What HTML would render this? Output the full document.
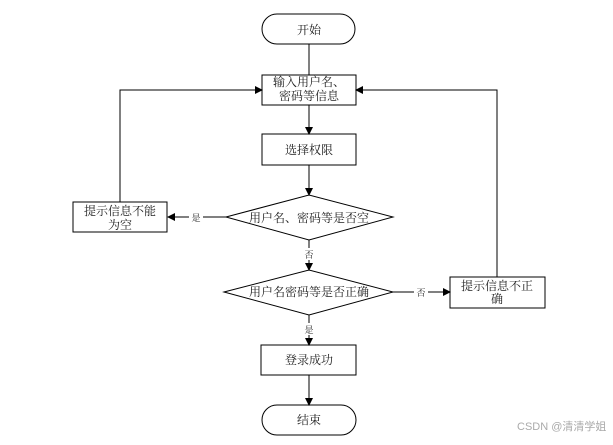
<!DOCTYPE html>
<html><head><meta charset="utf-8"><style>
body{margin:0;background:#fff;}
svg text{font-family:"Liberation Serif","Noto Serif CJK SC",serif;font-size:12px;fill:#222;}
</style></head><body>
<svg width="613" height="440" viewBox="0 0 613 440" xmlns="http://www.w3.org/2000/svg">
<defs><marker id="a" markerWidth="8" markerHeight="8" refX="7" refY="4" orient="auto" markerUnits="userSpaceOnUse"><path d="M0,0 L8,4 L0,8 z" fill="#000"/></marker></defs>
<g stroke="#000" stroke-width="1" fill="none">
<rect x="262" y="14" width="93" height="30" rx="15" fill="#fff"/>
<rect x="262" y="75" width="94" height="30" fill="#fff"/>
<rect x="262" y="134" width="94" height="31" fill="#fff"/>
<polygon points="226,217 309,195 393,217 309,240" fill="#fff"/>
<rect x="73" y="202" width="94" height="30" fill="#fff"/>
<polygon points="224,292 309,270 393,292 309,315" fill="#fff"/>
<rect x="450" y="277" width="95" height="31" fill="#fff"/>
<rect x="261" y="345" width="95" height="30" fill="#fff"/>
<rect x="262" y="405" width="94" height="30" rx="15" fill="#fff"/>
<line x1="309" y1="44" x2="309" y2="75"/>
<line x1="309" y1="105" x2="309" y2="134" marker-end="url(#a)"/>
<line x1="309" y1="165" x2="309" y2="195" marker-end="url(#a)"/>
<line x1="226" y1="217" x2="168" y2="217" marker-end="url(#a)"/>
<polyline points="120,202 120,90 262,90" marker-end="url(#a)"/>
<line x1="309" y1="240" x2="309" y2="270" marker-end="url(#a)"/>
<line x1="393" y1="292" x2="450" y2="292" marker-end="url(#a)"/>
<polyline points="497,277 497,90 356,90" marker-end="url(#a)"/>
<line x1="309" y1="315" x2="309" y2="345" marker-end="url(#a)"/>
<line x1="309" y1="375" x2="309" y2="405" marker-end="url(#a)"/>
</g>
<rect x="189" y="211" width="14" height="12" fill="#fff"/>
<text x="196" y="221" font-size="9" text-anchor="middle" style="font-size:9px">是</text>
<rect x="302" y="248" width="14" height="12" fill="#fff"/>
<text x="309" y="258" text-anchor="middle" style="font-size:9px">否</text>
<rect x="414" y="286" width="14" height="12" fill="#fff"/>
<text x="421" y="296" text-anchor="middle" style="font-size:9px">否</text>
<rect x="302" y="323" width="14" height="12" fill="#fff"/>
<text x="309" y="333" text-anchor="middle" style="font-size:9px">是</text>
<text x="309" y="34" text-anchor="middle">开始</text>
<text x="309" y="86" text-anchor="middle">输入用户名、</text>
<text x="309" y="100" text-anchor="middle">密码等信息</text>
<text x="309" y="154" text-anchor="middle">选择权限</text>
<text x="309" y="222" text-anchor="middle">用户名、密码等是否空</text>
<text x="120" y="215" text-anchor="middle">提示信息不能</text>
<text x="120" y="229" text-anchor="middle">为空</text>
<text x="309" y="296" text-anchor="middle">用户名密码等是否正确</text>
<text x="497" y="290" text-anchor="middle">提示信息不正</text>
<text x="497" y="303" text-anchor="middle">确</text>
<text x="309" y="364" text-anchor="middle">登录成功</text>
<text x="309" y="424" text-anchor="middle">结束</text>
<text x="517" y="430" style="font-family:'Liberation Sans','Noto Sans CJK SC',sans-serif;font-size:11px;fill:#aaa">CSDN @清清学姐</text>
</svg>
</body></html>
